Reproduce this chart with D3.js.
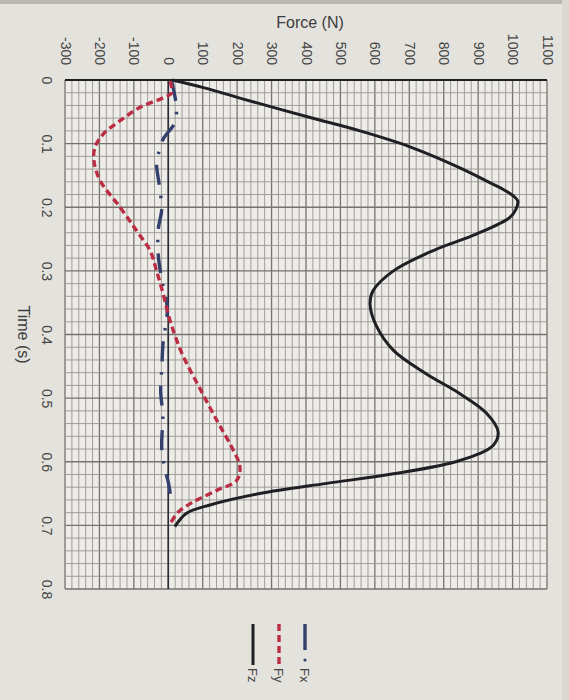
<!DOCTYPE html>
<html>
  <head>
    <meta charset="utf-8" />
    <script src="https://d3js.org/d3.v7.min.js"></script>
    <title>Force vs Time</title>
    <style>
      body {
        margin: 0px;
        background: #e3e1dc;
      }
      .domain {
        display: none;
      }
      .tick line {
        display: none;
      }
      .tick text {
        fill: #454545;
        font-size: 14px;
        font-family: "Liberation Sans", Arial, sans-serif;
      }
      .axis-label {
        fill: #3c3c3c;
        font-size: 16px;
        font-family: "Liberation Sans", Arial, sans-serif;
      }
      .legend-label {
        fill: #454545;
        font-size: 13px;
        font-family: "Liberation Sans", Arial, sans-serif;
      }
    </style>
  </head>
  <body>
    <svg width="569" height="700"></svg>
    <script>
      // chart is drawn turned a quarter clockwise, like the photo
      const forceTicks = [-300, -200, -100, 0, 100, 200, 300, 400, 500, 600, 700, 800, 900, 1000, 1100];
      const timeTicks = [0, 0.1, 0.2, 0.3, 0.4, 0.5, 0.6, 0.7, 0.8];
      const timeTickLabels = ["0", "0.1", "0.2", "0.3", "0.4", "0.5", "0.6", "0.7", "0.8"];
      const seriesNames = ["Fx", "Fy", "Fz"];

      const timeFz = [0, 0.012, 0.03, 0.059, 0.08, 0.105, 0.138, 0.164, 0.172, 0.182, 0.19, 0.203, 0.216, 0.242, 0.268, 0.3, 0.331, 0.352,
        0.385, 0.425, 0.462, 0.493, 0.524, 0.553, 0.574, 0.598, 0.619, 0.634, 0.65, 0.668, 0.681, 0.702];
      const fz = [12, 102, 218, 412, 557, 702, 847, 944, 973, 1002, 1015, 1010, 992, 896, 770, 654, 595, 586,
        603, 654, 750, 847, 925, 958, 944, 847, 654, 460, 266, 121, 53, 19];

      const timeFy = [0.002, 0.02, 0.028, 0.043, 0.064, 0.085, 0.106, 0.127, 0.158, 0.2, 0.237, 0.268, 0.3, 0.336,
        0.378, 0.43, 0.483, 0.535, 0.577, 0.608, 0.629, 0.645, 0.663, 0.679, 0.698];
      const fy = [5, 10, -15, -82, -140, -189, -213, -216, -198, -140, -92, -53, -34, -15,
        5, 40, 90, 141, 184, 208, 199, 141, 73, 29, 5];

      const timeFx = [0.002, 0.025, 0.046, 0.067, 0.093, 0.111, 0.13, 0.166, 0.203, 0.234, 0.276, 0.313, 0.36,
        0.412, 0.454, 0.49, 0.527, 0.579, 0.611, 0.632, 0.665];
      const fx = [10, 19, 24, 19, -15, -26, -34, -26, -19, -29, -29, -19, -3,
        -15, -19, -22, -16, -19, -10, 0, 10];

      const svg = d3.select("svg");
      const plot = { left: 65, right: 547, top: 80, bottom: 589 };

      const xScale = d3.scaleLinear().domain([-300, 1100]).range([plot.left, plot.right]);
      const yScale = d3.scaleLinear().domain([0, 0.8]).range([plot.top, plot.bottom]);

      // paper
      svg.append("rect")
        .attr("x", 0).attr("y", 0)
        .attr("width", 569).attr("height", 700)
        .attr("fill", "#e4e2dd");
      svg.append("rect")
        .attr("x", 0).attr("y", 0)
        .attr("width", 569).attr("height", 4)
        .attr("fill", "#b9b7b2");
      svg.append("rect")
        .attr("x", 562).attr("y", 0)
        .attr("width", 7).attr("height", 700)
        .attr("fill", "#dad8d3");

      svg.append("rect")
        .attr("x", plot.left).attr("y", plot.top)
        .attr("width", plot.right - plot.left).attr("height", plot.bottom - plot.top)
        .attr("fill", "#eeece8");

      // graph paper grid
      const grid = svg.append("g");
      const minorF = d3.range(-300, 1101, 20);
      const minorT = d3.range(0, 41).map((i) => i * 0.02);

      grid.selectAll(".vminor")
        .data(minorF)
        .enter()
        .append("line")
        .attr("x1", (d) => xScale(d)).attr("x2", (d) => xScale(d))
        .attr("y1", plot.top).attr("y2", plot.bottom)
        .attr("stroke", (d) => (d % 100 === 0 ? "#75736e" : "#979590"))
        .attr("stroke-width", (d) => (d % 100 === 0 ? 1.3 : 0.9));

      grid.selectAll(".hminor")
        .data(minorT)
        .enter()
        .append("line")
        .attr("x1", plot.left).attr("x2", plot.right)
        .attr("y1", (d) => yScale(d)).attr("y2", (d) => yScale(d))
        .attr("stroke", (d, i) => (i % 5 === 0 ? "#75736e" : "#979590"))
        .attr("stroke-width", (d, i) => (i % 5 === 0 ? 1.3 : 0.9));

      // zero force line and time-zero border
      svg.append("line")
        .attr("x1", xScale(0)).attr("x2", xScale(0))
        .attr("y1", plot.top).attr("y2", plot.bottom)
        .attr("stroke", "#2b2c3a")
        .attr("stroke-width", 1.6);
      svg.append("line")
        .attr("x1", plot.left).attr("x2", plot.right)
        .attr("y1", plot.top).attr("y2", plot.top)
        .attr("stroke", "#1e1e22")
        .attr("stroke-width", 2.2);

      // axes
      const xAxisG = svg.append("g")
        .attr("transform", `translate(0,${plot.top})`)
        .call(d3.axisTop(xScale).tickValues(forceTicks).tickFormat((d) => String(d)));
      xAxisG.selectAll(".tick text")
        .attr("x", 0).attr("y", 0)
        .attr("dy", "0.35em")
        .attr("text-anchor", "end")
        .attr("transform", "translate(0,-15) rotate(90)");

      const yAxisG = svg.append("g")
        .attr("transform", `translate(${plot.left},0)`)
        .call(d3.axisLeft(yScale).tickValues(timeTicks).tickFormat((d, i) => timeTickLabels[i]));
      yAxisG.selectAll(".tick text")
        .attr("x", 0).attr("y", 0)
        .attr("dy", "0.35em")
        .attr("text-anchor", "middle")
        .attr("transform", "translate(-18,0) rotate(90)");

      svg.append("text")
        .attr("class", "axis-label")
        .attr("x", (plot.left + plot.right) / 2 + 4)
        .attr("y", 28)
        .attr("text-anchor", "middle")
        .text("Force (N)");

      svg.append("text")
        .attr("class", "axis-label")
        .attr("transform", `translate(24,${(plot.top + plot.bottom) / 2}) rotate(90)`)
        .attr("dy", "0.35em")
        .attr("text-anchor", "middle")
        .text("Time (s)");

      // series
      const line = d3.line()
        .x((d) => xScale(d[1]))
        .y((d) => yScale(d[0]))
        .curve(d3.curveCatmullRom.alpha(0.5));

      const styles = {
        Fx: { color: "#33406e", width: 3.4, dash: "20,11,2.5,11" },
        Fy: { color: "#bb2d45", width: 3.4, dash: "7,4" },
        Fz: { color: "#1f1f24", width: 3, dash: null },
      };

      svg.append("path")
        .datum(d3.zip(timeFx, fx))
        .attr("d", line)
        .attr("fill", "none")
        .attr("stroke", styles.Fx.color)
        .attr("stroke-width", styles.Fx.width)
        .attr("stroke-dasharray", styles.Fx.dash);

      svg.append("path")
        .datum(d3.zip(timeFz, fz))
        .attr("d", line)
        .attr("fill", "none")
        .attr("stroke", styles.Fz.color)
        .attr("stroke-width", styles.Fz.width);

      svg.append("path")
        .datum(d3.zip(timeFy, fy))
        .attr("d", line)
        .attr("fill", "none")
        .attr("stroke", styles.Fy.color)
        .attr("stroke-width", styles.Fy.width)
        .attr("stroke-dasharray", styles.Fy.dash);

      // handmade legend, turned like the rest
      const legend = svg.append("g");
      const legendX = d3.scalePoint().domain(["Fz", "Fy", "Fx"]).range([253, 305]);
      seriesNames.forEach((name) => {
        const s = styles[name];
        const lx = legendX(name);
        if (name === "Fx") {
          legend.append("line")
            .attr("x1", lx).attr("x2", lx)
            .attr("y1", 624).attr("y2", 650)
            .attr("stroke", s.color).attr("stroke-width", s.width);
          legend.append("circle")
            .attr("cx", lx).attr("cy", 660).attr("r", 1.6)
            .attr("fill", s.color);
        } else {
          legend.append("line")
            .attr("x1", lx).attr("x2", lx)
            .attr("y1", 624).attr("y2", 665)
            .attr("stroke", s.color).attr("stroke-width", s.width)
            .attr("stroke-dasharray", s.dash);
        }
        legend.append("text")
          .attr("class", "legend-label")
          .attr("transform", `translate(${lx},668) rotate(90)`)
          .attr("dy", "0.35em")
          .text(name);
      });
    </script>
  </body>
</html>
